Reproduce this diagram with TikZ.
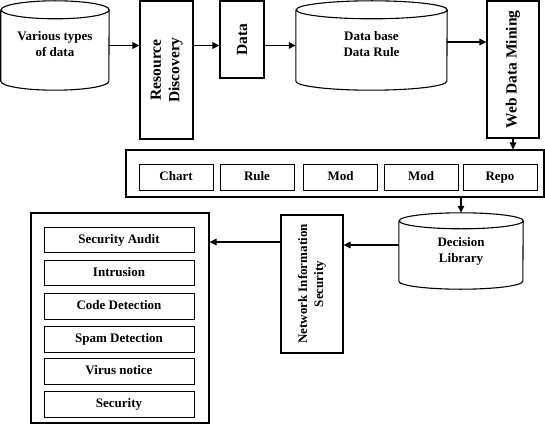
\documentclass[tikz,border=0pt]{standalone}
\usepackage{fontspec}
\setmainfont{Liberation Serif}
\usetikzlibrary{arrows.meta}
\newcommand{\twol}[2]{\begin{tabular}{@{}c@{}}#1\\#2\end{tabular}}
\begin{document}
\begin{tikzpicture}[x=1pt,y=-1pt,
  every node/.style={font=\bfseries\fontsize{13}{16}\selectfont, inner sep=0pt, align=center},
  ln/.style={line width=1.1pt},
  box/.style={draw, ln, rectangle},
  vbox/.style={draw, ln, rectangle, font=\bfseries\fontsize{15.5}{18.5}\selectfont},
  cylarea/.style={rectangle, draw=none},
  inbox/.style={draw, line width=1pt, minimum width=74pt, minimum height=26pt, text height=9pt, text depth=3pt},
  secbox/.style={draw, line width=1pt, minimum width=150pt, minimum height=25.5pt, text height=9pt, text depth=3pt},
  arr/.style={ln, -{Triangle[length=7pt,width=6.5pt]}}]
\useasboundingbox (0,0) rectangle (545,425);

% Various types of data (cylinder)
\node[cylarea, minimum width=108pt, minimum height=89pt] (vt) at (55,45.5) {\raisebox{3.5pt}{\twol{Various types}{of data}}};
\draw[ln] ([yshift=-9pt]vt.north west) -- ([yshift=9pt]vt.south west)
  arc[start angle=180, end angle=360, x radius=54pt, y radius=9pt]
  -- ([yshift=-9pt]vt.north east)
  arc[start angle=0, end angle=360, x radius=54pt, y radius=9pt];

% Resource Discovery
\node[vbox, minimum width=53pt, minimum height=138pt] (rd) at (166.5,70) {\rotatebox{90}{\twol{Resource}{Discovery}}};

% Data
\node[vbox, minimum width=44pt, minimum height=77pt] (dt) at (242,39.5) {\rotatebox{90}{Data}};

% Data base (cylinder)
\node[cylarea, minimum width=151pt, minimum height=89pt] (db) at (371.5,45.5) {\raisebox{3.5pt}{\twol{Data base}{Data Rule}}};
\draw[ln] ([yshift=-9pt]db.north west) -- ([yshift=9pt]db.south west)
  arc[start angle=180, end angle=360, x radius=75.5pt, y radius=9pt]
  -- ([yshift=-9pt]db.north east)
  arc[start angle=0, end angle=360, x radius=75.5pt, y radius=9pt];

% Web Data Mining
\node[vbox, minimum width=52pt, minimum height=137pt] (wdm) at (513,69.5) {\rotatebox{90}{Web Data Mining}};

% container row
\node[box, minimum width=418pt, minimum height=47pt] (ct) at (335,173.5) {};
\node[inbox] (chart) at (176,177) {Chart};
\node[inbox] (rule) at (257,177) {Rule};
\node[inbox] (mod1) at (340.5,177) {Mod};
\node[inbox] (mod2) at (421,177) {Mod};
\node[inbox] (repo) at (500,177) {Repo};

% Decision Library (cylinder)
\node[cylarea, minimum width=124pt, minimum height=76pt] (dl) at (461,251) {\twol{Decision}{Library}};
\draw[ln] ([yshift=-8pt]dl.north west) -- ([yshift=8pt]dl.south west)
  arc[start angle=180, end angle=360, x radius=62pt, y radius=8pt]
  -- ([yshift=-8pt]dl.north east)
  arc[start angle=0, end angle=360, x radius=62pt, y radius=8pt];

% Network Information Security
\node[box, minimum width=62pt, minimum height=138pt] (nis) at (312,284) {\rotatebox{90}{\twol{Network Information}{Security}}};

% Security container
\node[box, minimum width=178pt, minimum height=210pt] (sc) at (120,318) {};
\node[secbox] (s1) at (119,240) {Security Audit};
\node[secbox] (s2) at (119,273) {Intrusion};
\node[secbox] (s3) at (119,306.5) {Code Detection};
\node[secbox] (s4) at (119,339.5) {Spam Detection};
\node[secbox] (s5) at (119,371.5) {Virus notice};
\node[secbox] (s6) at (119,404.5) {Security};

% connectors
\draw[arr] (vt.east) -- (vt.east -| rd.west);
\draw[arr] (rd.east |- vt.east) -- (vt.east -| dt.west);
\draw[arr] (dt.east |- vt.east) -- (vt.east -| db.west);
\draw[arr] ([yshift=3.5pt]db.east) -- ([yshift=3.5pt]db.east -| wdm.west);
\draw[arr] (wdm.south) -- (wdm.south |- ct.north);
\draw[arr] (dl.north |- ct.south) -- (dl.north);
\draw[arr] ([yshift=6pt]dl.west) -- ([yshift=6pt]dl.west -| nis.east);
\draw[arr] ([yshift=9pt]dl.west -| nis.west) -- ([yshift=9pt]dl.west -| sc.east);
\end{tikzpicture}
\end{document}
